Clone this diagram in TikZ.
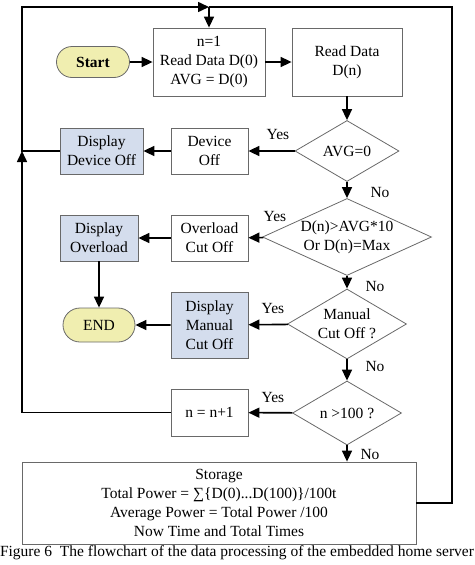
\documentclass[tikz,border=0pt]{standalone}
\usepackage{fontspec}
\setmainfont{Liberation Serif}
\usepackage{tikz}
\usetikzlibrary{calc,shapes.geometric,shapes.misc,arrows.meta}
\definecolor{termfill}{RGB}{240,238,176}
\definecolor{bluefill}{RGB}{212,221,237}
\definecolor{boxline}{RGB}{105,105,105}
\tikzstyle{whitebox}=[rectangle,draw=boxline,fill=white,line width=0.8pt,
                      align=center,inner sep=2pt]
\tikzstyle{bluebox}=[whitebox,fill=bluefill]
\tikzstyle{termbox}=[rounded rectangle,draw=boxline,fill=termfill,line width=0.8pt,
                     inner sep=2pt]
\tikzstyle{decision}=[diamond,draw=boxline,fill=white,line width=0.8pt,
                      align=center,inner sep=0pt]
\tikzstyle{flowline}=[line width=1.6pt,black]
\tikzstyle{flow}=[flowline,-{Triangle[length=11pt,width=10pt]}]
\tikzset{boxsize/.style 2 args={minimum width=#1pt,minimum height=#2pt}}

\begin{document}
\begin{tikzpicture}[x=1pt,y=-1pt,font=\fontsize{15.5}{19}\selectfont]
    \useasboundingbox (0,0) rectangle (474,565);
    % top row
    \node [termbox,boxsize={77}{31}] (start) at (93,62) {\textbf{Start}};
    \node [whitebox,boxsize={112}{68}] (init) at (209,62) {n=1\\Read Data D(0)\\AVG = D(0)};
    \node [whitebox,boxsize={110}{68}] (read) at (347,62) {Read Data\\D(n)};
    % decisions
    \node [decision,boxsize={104}{61},aspect=1.7] (avg) at (347,151) {AVG=0};
    \node [decision,boxsize={169}{77},aspect=2.19] (over) at (347,237) {D(n)>AVG*10\\Or D(n)=Max};
    \node [decision,boxsize={119}{70},aspect=1.7] (manual) at (347,324) {Manual\\Cut Off ?};
    \node [decision,boxsize={109}{64},aspect=1.7] (count) at (347,413) {n >100 ?};
    % actions
    \node [whitebox,boxsize={77}{46}] (devoff) at (209.5,151) {Device\\Off};
    \node [bluebox,boxsize={83}{46}] (dispoff) at (101.5,151) {Display\\Device Off};
    \node [whitebox,boxsize={77}{46}] (cutoff) at (209.5,238) {Overload\\Cut Off};
    \node [bluebox,boxsize={78}{46}] (dispover) at (99,238) {Display\\Overload};
    \node [bluebox,boxsize={77}{66}] (dispman) at (209.5,325) {Display\\Manual\\Cut Off};
    \node [termbox,boxsize={76}{34}] (finish) at (99,325) {END};
    \node [whitebox,boxsize={77}{47}] (inc) at (209.5,412.5) {n = n+1};
    \node [whitebox,boxsize={394}{82}] (store) at (219,503) {Storage\\
        Total Power = ∑\{D(0)...D(100)\}/100t\\
        Average Power = Total Power /100\\
        Now Time and Total Times};
    % loop corners
    \coordinate (topjoin) at (209,7);
    \coordinate (leftjoin) at (22,151);
    \coordinate (rightcorner) at (452,7);
    % connectors
    \draw [flow] (start) -- (init);
    \draw [flow] (init) -- (read);
    \draw [flow] (read) -- (avg);
    \draw [flow] (avg) -- (over);
    \draw [flow] (over) -- (manual);
    \draw [flow] (manual) -- (count);
    \draw [flow] (count.south) -- (count.south |- store.north);
    \draw [flow] (avg) -- (devoff);
    \draw [flow] (devoff) -- (dispoff);
    \draw [flow] (over) -- (cutoff);
    \draw [flow] (cutoff) -- (dispover);
    \draw [flow] (dispover) -- (finish);
    \draw [flow] (manual) -- (dispman);
    \draw [flow] (dispman) -- (finish);
    \draw [flow] (count) -- (inc);
    \draw [flow] (inc) -| (leftjoin);
    \draw [flow] (dispoff) -- (leftjoin) |- (topjoin);
    \draw [flowline] (store) -| (rightcorner) -- (topjoin);
    \draw [flow] (topjoin) -- (init);
    % labels
    \node (yes1) at (278,134) {Yes};
    \node (yes2) at (275,216) {Yes};
    \node (yes3) at (273,308) {Yes};
    \node (yes4) at (273,397) {Yes};
    \node (no1) at (380,192) {No};
    \node (no2) at (375,286) {No};
    \node (no3) at (375,366) {No};
    \node (no4) at (370,454) {No};
    \node (caption) at (237,553) {Figure 6\ \ The flowchart of the data processing of the embedded home server};
\end{tikzpicture}
\end{document}
